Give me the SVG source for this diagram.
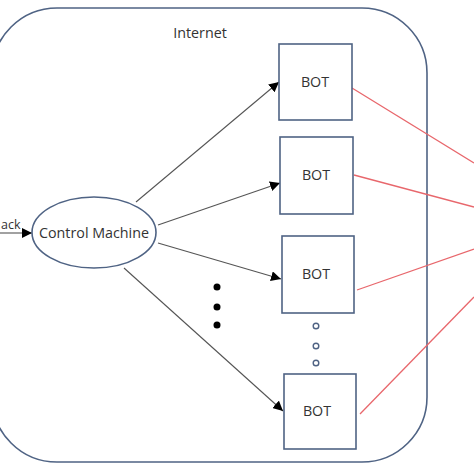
<svg xmlns="http://www.w3.org/2000/svg" width="474" height="474" viewBox="0 0 474 474">
<style>
.frame{fill:none;stroke:#4f6384;stroke-width:1.6}
.box{fill:#fff;stroke:#4f6384;stroke-width:1.6}
.lbl{font-family:"Open Sans","Liberation Sans",sans-serif;font-size:14.3px;fill:#333;text-anchor:middle}
.conn{stroke:#555;stroke-width:1.1;fill:none;marker-end:url(#arr)}
.red{stroke:#e8676c;stroke-width:1.3;fill:none}
.hole{fill:#fff;stroke:#4f6384;stroke-width:1.4}
</style>
<defs>
<marker id="arr" viewBox="0 0 10 10" refX="10" refY="5" markerWidth="10" markerHeight="10" markerUnits="userSpaceOnUse" orient="auto">
<path d="M0,0 L10,5 L0,10 z" fill="#000"/>
</marker>
</defs>
<rect class="frame" x="-8" y="8" width="435" height="454" rx="65" ry="65"/>
<text class="lbl" x="200" y="38">Internet</text>
<g id="connectors">
<line class="conn" x1="0" y1="233" x2="32" y2="233"/>
<line class="conn" x1="136" y1="202" x2="279" y2="82"/>
<line class="conn" x1="158" y1="225" x2="280" y2="183"/>
<line class="conn" x1="158" y1="243" x2="281" y2="279"/>
<line class="conn" x1="124" y1="268" x2="283" y2="411"/>
<line class="red" x1="352" y1="88" x2="474" y2="163"/>
<line class="red" x1="354" y1="175" x2="474" y2="207"/>
<line class="red" x1="357" y1="290" x2="474" y2="249"/>
<line class="red" x1="360" y1="414" x2="474" y2="297"/>
</g>
<g id="attack"><text class="lbl" x="1" y="229" style="text-anchor:start;font-size:12.5px">ack</text></g>
<g id="control">
<ellipse class="box" cx="94" cy="232.5" rx="62" ry="35.5"/>
<text class="lbl" x="94" y="238">Control Machine</text>
</g>
<g id="bot1"><rect class="box" x="279" y="44" width="73" height="76"/><text class="lbl" x="315" y="87">BOT</text></g>
<g id="bot2"><rect class="box" x="280" y="137" width="73" height="77"/><text class="lbl" x="316" y="180">BOT</text></g>
<g id="bot3"><rect class="box" x="282" y="236" width="72" height="77"/><text class="lbl" x="316" y="279">BOT</text></g>
<g id="bot4"><rect class="box" x="284" y="374" width="72" height="75"/><text class="lbl" x="317" y="416">BOT</text></g>
<g id="dots">
<circle cx="217" cy="287" r="3.5" fill="#000"/>
<circle cx="217" cy="307" r="3.5" fill="#000"/>
<circle cx="217" cy="325" r="3.5" fill="#000"/>
</g>
<g id="hollow">
<circle class="hole" cx="316" cy="326" r="2.8"/>
<circle class="hole" cx="316" cy="346" r="2.8"/>
<circle class="hole" cx="316" cy="363" r="2.8"/>
</g>
</svg>
